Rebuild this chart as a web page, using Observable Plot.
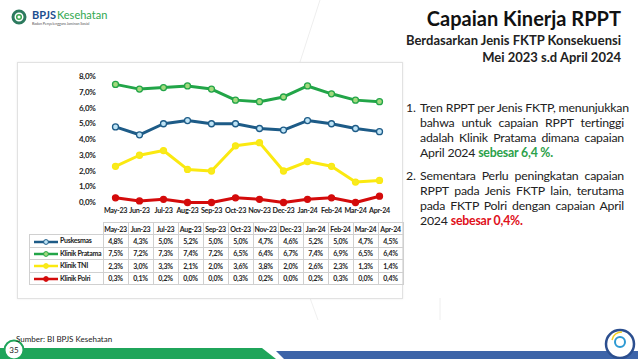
<!DOCTYPE html>
<html><head><meta charset="utf-8">
<script src="https://cdn.jsdelivr.net/npm/d3@7"></script>
<script src="https://cdn.jsdelivr.net/npm/@observablehq/plot@0.6"></script>
<style>
body{margin:0;width:638px;height:359px;position:relative;overflow:hidden;background:#fff;font-family:Lato,"Open Sans",sans-serif;color:#222;}
.abs{position:absolute;}
#title{right:17px;top:6px;font-size:20px;font-weight:bold;color:#111;white-space:nowrap;}
#sub1{right:17px;top:32px;font-size:13px;font-weight:bold;white-space:nowrap;}
#sub2{right:17px;top:49px;font-size:13px;font-weight:bold;white-space:nowrap;}
#box{left:17px;top:62px;width:384px;height:235px;border:1px solid #e2e2e2;background:#fff;box-shadow:0 0 2px rgba(0,0,0,0.08);}
#plot{left:30px;top:64px;}
#plot svg text{letter-spacing:-0.3px;}
#tbl{left:29px;top:222px;border-collapse:collapse;table-layout:fixed;width:361px;font-size:7px;font-weight:bold;letter-spacing:-0.3px;}
#tbl td{border:1px solid #d0d0d0;height:11.4px;padding:0;text-align:center;width:24px;white-space:nowrap;overflow:hidden;}
#tbl td.lg{width:73px;text-align:left;}
#tbl td.blank{border:none;}
#notes{left:406px;top:100px;width:218px;font-size:12.3px;letter-spacing:-0.2px;color:#222;}
.item{position:relative;padding-left:14px;margin-bottom:8px;}
.item .num{position:absolute;left:0;top:0;}
.ln{line-height:15px;text-align:justify;text-align-last:justify;white-space:nowrap;}
.ln.last{text-align-last:left;}
.g{color:#2ca14a;font-weight:bold;}
.r{color:#e0101a;font-weight:bold;}
#src{left:16px;top:334px;font-size:8px;color:#222;}
</style></head><body>
<svg class="abs" style="left:0;top:0" width="638" height="359">
  <line x1="300" y1="62" x2="320" y2="0" stroke="#eee" stroke-width="1"/>
  <line x1="440" y1="298" x2="440" y2="320" stroke="#eee"/>
  <line x1="310" y1="298" x2="318" y2="320" stroke="#f0f0f0"/>
  <circle cx="19" cy="17" r="6" fill="none" stroke="#2c7a5e" stroke-width="3"/>
  <circle cx="19" cy="17" r="2.3" fill="none" stroke="#3aa84f" stroke-width="1.5"/>
  <text x="32" y="19" font-family="Lato" font-weight="bold" font-size="11" fill="#1c4e8f">BPJS<tspan fill="#30a850" font-weight="normal" dx="1">Kesehatan</tspan></text>
  <text x="32" y="25" font-family="Lato" font-size="3.6" fill="#555">Badan Penyelenggara Jaminan Sosial</text>
  <path d="M0,348 L262,348 L276,359 L0,359 Z" fill="#1fa55a"/>
  <path d="M276,351 L638,351 L638,359 L284,359 Z" fill="#3d64a8"/>
  <circle cx="14" cy="350" r="9.5" fill="#fff" stroke="#1fa55a" stroke-width="2"/>
  <text x="14" y="353" text-anchor="middle" font-family="Lato" font-size="8" fill="#222">35</text>
  <circle cx="620" cy="344" r="14" fill="#fff" stroke="#2c4f8f" stroke-width="2.5"/>
  <circle cx="620" cy="342" r="5" fill="none" stroke="#2d9ad3" stroke-width="2"/>
  <path d="M612,340 q2,-8 10,-8" fill="none" stroke="#f0d020" stroke-width="1.5"/>
</svg>
<div id="title" class="abs">Capaian Kinerja RPPT</div>
<div id="sub1" class="abs">Berdasarkan Jenis FKTP Konsekuensi</div>
<div id="sub2" class="abs">Mei 2023 s.d April 2024</div>
<div id="box" class="abs"></div>
<div id="plot" class="abs"></div>
<table id="tbl" class="abs"></table>
<div id="notes" class="abs">
  <div class="item"><span class="num">1.</span>
    <div class="ln">Tren RPPT per Jenis FKTP, menunjukkan</div>
    <div class="ln">bahwa untuk capaian RPPT tertinggi</div>
    <div class="ln">adalah Klinik Pratama dimana capaian</div>
    <div class="ln last">April 2024 <span class="g">sebesar 6,4 %.</span></div>
  </div>
  <div class="item"><span class="num">2.</span>
    <div class="ln">Sementara Perlu peningkatan capaian</div>
    <div class="ln">RPPT pada Jenis FKTP lain, terutama</div>
    <div class="ln">pada FKTP Polri dengan capaian April</div>
    <div class="ln last">2024 <span class="r">sebesar 0,4%.</span></div>
  </div>
</div>
<div id="src" class="abs">Sumber: BI BPJS Kesehatan</div>
<script>
const months = ["May-23","Jun-23","Jul-23","Aug-23","Sep-23","Oct-23","Nov-23","Dec-23","Jan-24","Feb-24","Mar-24","Apr-24"];
const seriesNames = ["Puskesmas","Klinik Pratama","Klinik TNI","Klinik Polri"];
const puskesmas     = [4.8,4.3,5.0,5.2,5.0,5.0,4.7,4.6,5.2,5.0,4.7,4.5];
const klinikPratama = [7.5,7.2,7.3,7.4,7.2,6.5,6.4,6.7,7.4,6.9,6.5,6.4];
const klinikTNI     = [2.3,3.0,3.3,2.1,2.0,3.6,3.8,2.0,2.6,2.3,1.3,1.4];
const klinikPolri   = [0.3,0.1,0.2,0.0,0.0,0.3,0.2,0.0,0.2,0.3,0.0,0.4];
const yTicks = [0,1,2,3,4,5,6,7,8];
const lineColors = ["#1d5b87","#22a548","#fbe910","#d40b0b"];
const dotFills   = ["#bfe4f6","#a4d97e","#f7ea20","#d40b0b"];
const valuesBySeries = [puskesmas, klinikPratama, klinikTNI, klinikPolri];

const fmt = v => v.toFixed(1).replace(".", ",") + "%";
const data = [];
seriesNames.forEach((s, i) => valuesBySeries[i].forEach((v, j) => data.push({series: s, month: months[j], value: v})));
const drawOrder = [3,2,0,1];
const marks = [
  Plot.axisX({tickSize: 0, tickPadding: 5, fontSize: 7.2, label: null}),
  Plot.axisY({ticks: yTicks, tickFormat: fmt, tickSize: 0, tickPadding: 20, fontSize: 8, label: null})
];
drawOrder.forEach(i => {
  const d = data.filter(r => r.series === seriesNames[i]);
  marks.push(Plot.line(d, {x: "month", y: "value", stroke: lineColors[i], strokeWidth: 3}));
  marks.push(Plot.dot(d, {x: "month", y: "value", r: 3, fill: dotFills[i], stroke: lineColors[i], strokeWidth: 1.3}));
});

const chart = Plot.plot({
  width: 365, height: 156,
  marginLeft: 85, marginRight: 16, marginTop: 12, marginBottom: 18,
  x: {type: "point", domain: months, padding: 0},
  y: {domain: [0, 8]},
  style: {fontFamily: "Lato, sans-serif", fontWeight: "bold", color: "#222", background: "transparent", overflow: "visible"},
  marks
});
document.getElementById("plot").appendChild(chart);

const tbl = document.getElementById("tbl");
let html = '<tr><td class="blank lg"></td>' + months.map(m => `<td>${m}</td>`).join("") + '</tr>';
seriesNames.forEach((s, i) => {
  const sw = `<svg width="26" height="8" style="vertical-align:middle;margin:0 1px 0 3px"><line x1="1" y1="4" x2="25" y2="4" stroke="${lineColors[i]}" stroke-width="2.5"/><circle cx="13" cy="4" r="2.4" fill="${dotFills[i]}" stroke="${lineColors[i]}" stroke-width="1"/></svg>`;
  html += `<tr><td class="lg">${sw}${s}</td>` + valuesBySeries[i].map(v => `<td>${fmt(v)}</td>`).join("") + '</tr>';
});
tbl.innerHTML = html;
</script>
</body></html>
